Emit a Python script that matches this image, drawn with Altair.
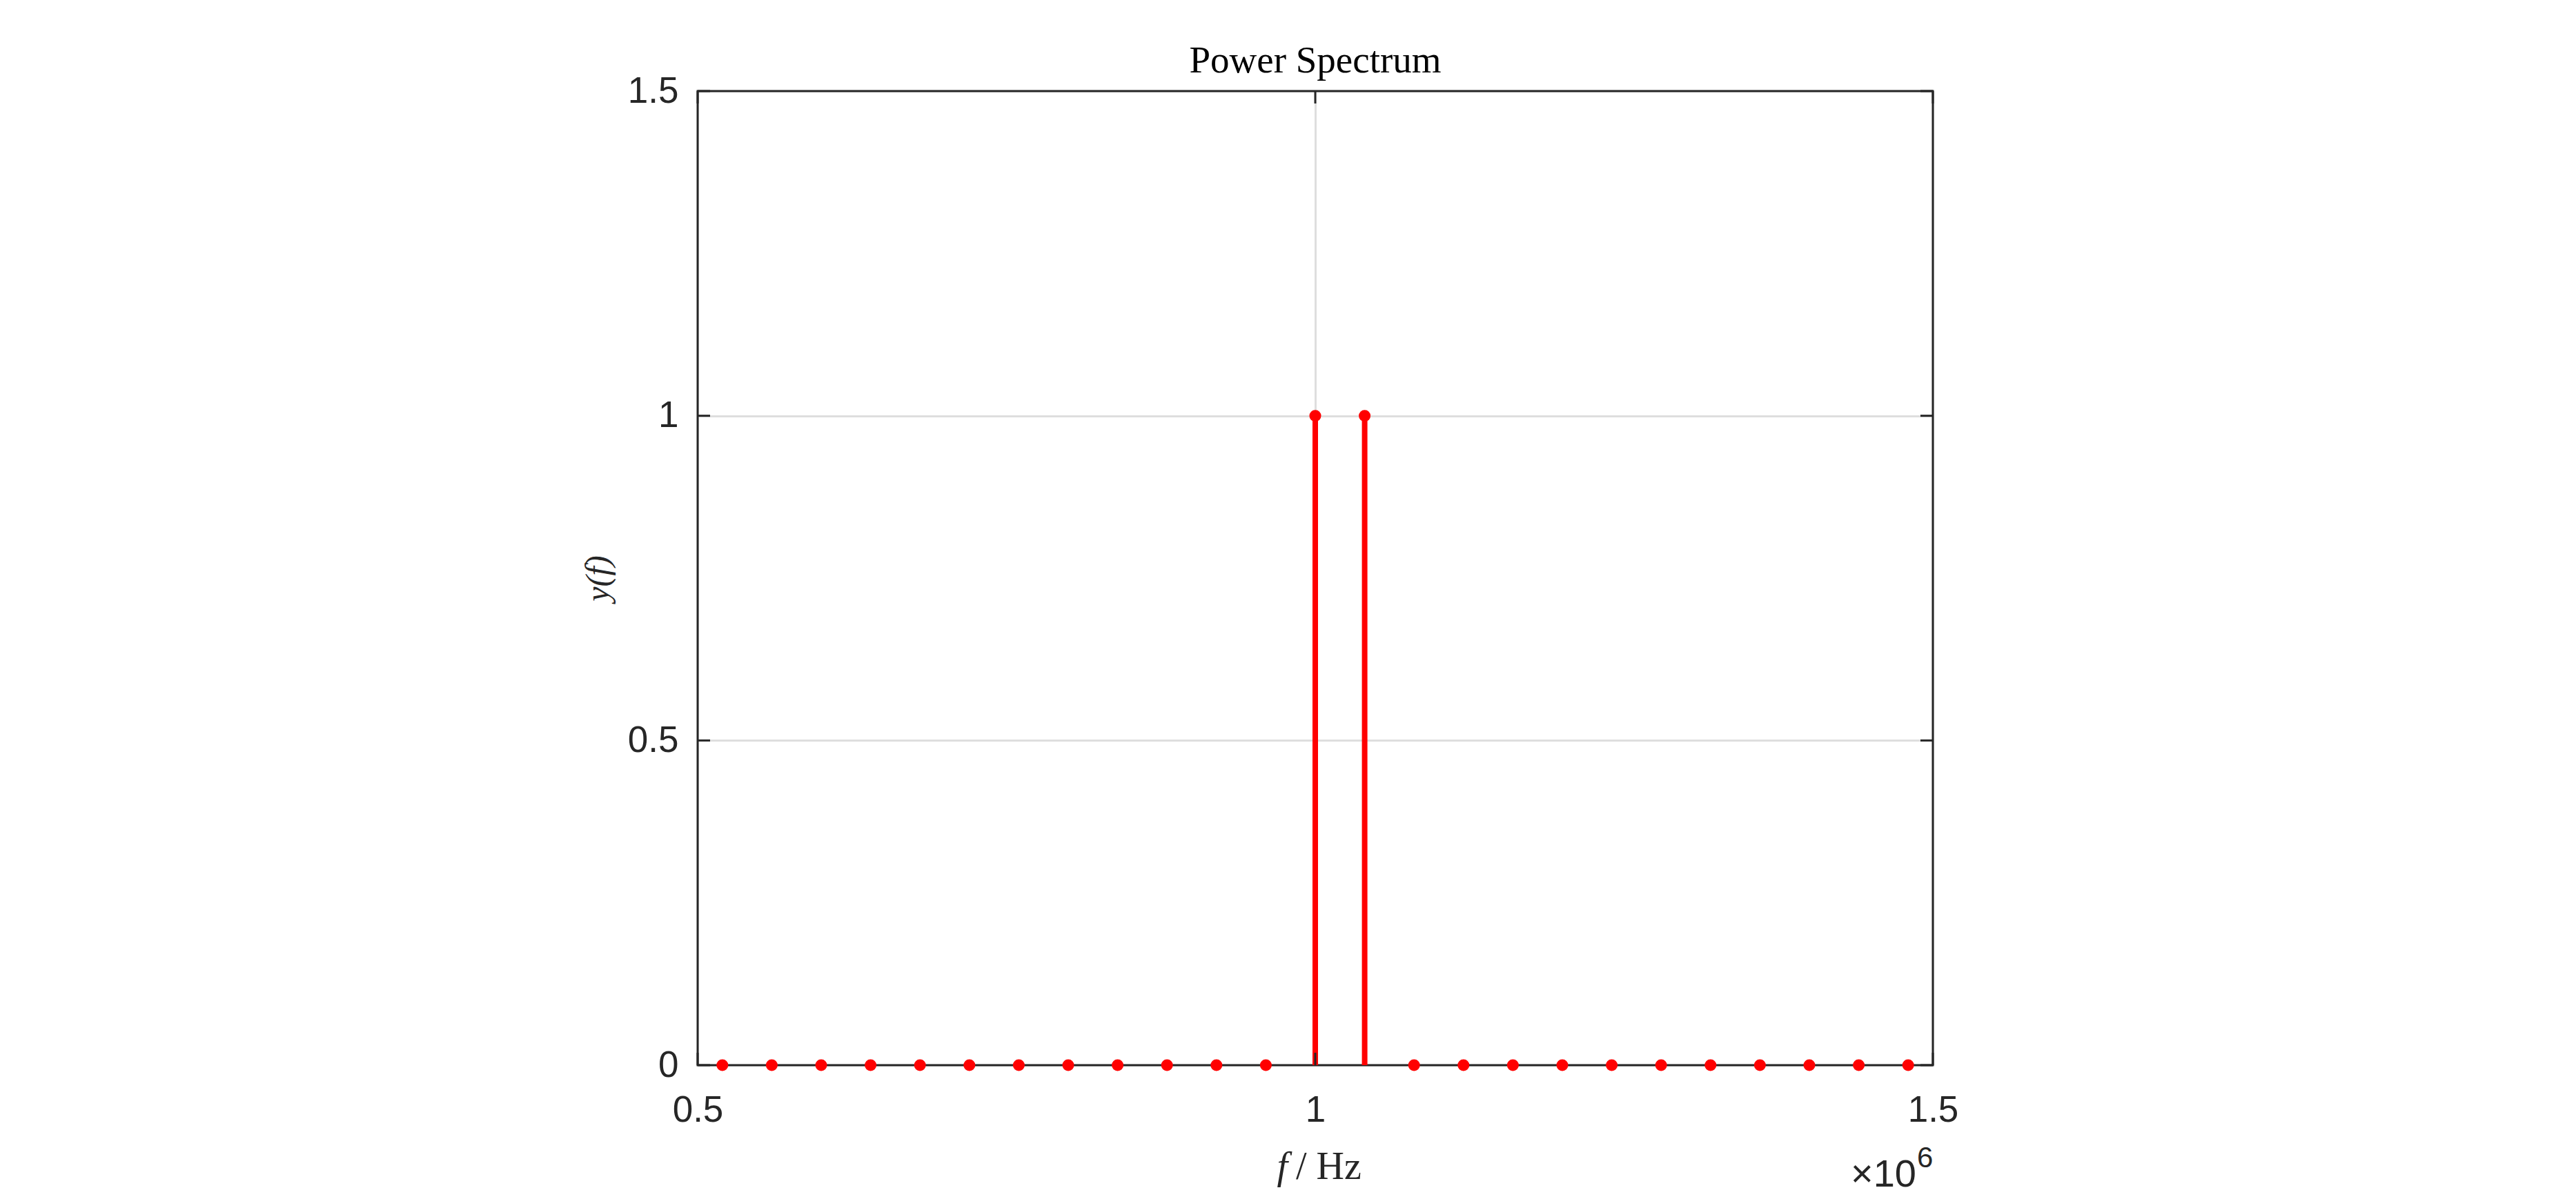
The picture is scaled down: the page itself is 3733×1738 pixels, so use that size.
import altair as alt
import pandas as pd

# ---- data ----
freqs = [520000, 560000, 600000, 640000, 680000, 720000, 760000, 800000,
         840000, 880000, 920000, 960000, 1000000, 1040000, 1080000, 1120000,
         1160000, 1200000, 1240000, 1280000, 1320000, 1360000, 1400000,
         1440000, 1480000]
power = [0, 0, 0, 0, 0, 0, 0, 0, 0, 0, 0, 0, 1, 1, 0, 0, 0, 0, 0, 0, 0, 0, 0, 0, 0]

x_ticks = [500000, 1000000, 1500000]
y_ticks = [0, 0.5, 1, 1.5]

title_text = "Power Spectrum"
x_title_parts = ["f", "/ Hz"]
y_title_text = "y(f)"
exp_parts = ["\u00d710", "6"]

W, H = 1790, 1412
TICK = 18
DARK = "#262626"
RED = "#ff0000"

df = pd.DataFrame({"f": freqs, "y": power})
xt = pd.DataFrame({"t": x_ticks})
yt = pd.DataFrame({"t": y_ticks})

xscale = alt.Scale(domain=[500000, 1500000], nice=False, zero=False)
yscale = alt.Scale(domain=[0, 1.5], nice=False, zero=False)

xaxis = alt.Axis(values=x_ticks, labelExpr="datum.value / 1000000",
                 grid=True, gridColor="#dedede", gridWidth=3,
                 ticks=False, domain=False, labelFont="Liberation Sans",
                 labelFontSize=53, labelColor=DARK, labelPadding=39,
                 labelFlush=False, labelOverlap=False, title=None)
yaxis = alt.Axis(values=y_ticks, labelExpr="datum.value",
                 grid=True, gridColor="#dedede", gridWidth=3,
                 ticks=False, domain=False, labelFont="Liberation Sans",
                 labelFontSize=53, labelColor=DARK, labelPadding=28,
                 labelFlush=False, labelOverlap=False,
                 title=y_title_text, titleFont="Liberation Serif",
                 titleFontStyle="italic", titleFontWeight="normal",
                 titleFontSize=48, titleColor=DARK, titleAngle=270,
                 titleX=-144, titleY=H / 2, titleBaseline="middle",
                 titleAlign="center")

X_f = alt.X("f:Q", scale=xscale, axis=xaxis)
Y_y = alt.Y("y:Q", scale=yscale, axis=yaxis)
X_t = alt.X("t:Q", scale=xscale, axis=xaxis)
Y_t = alt.Y("t:Q", scale=yscale, axis=yaxis)

frame = alt.Chart(pd.DataFrame({"k": [0]})).mark_rect(
    fill=None, fillOpacity=0, stroke=DARK, strokeWidth=3).encode(
    x=alt.value(0), x2=alt.value(W), y=alt.value(0), y2=alt.value(H))

stems = alt.Chart(df).mark_rule(color=RED, strokeWidth=8).encode(
    x=X_f, y=Y_y, y2=alt.datum(0),
)

dots = alt.Chart(df).mark_circle(color=RED, size=290, opacity=1).encode(
    x=X_f, y=Y_y,
)

tick_style = dict(color=DARK, strokeWidth=3)
xb = alt.Chart(xt).mark_rule(**tick_style).encode(
    x=X_t, y=alt.value(H), y2=alt.value(H - TICK))
xtop = alt.Chart(xt).mark_rule(**tick_style).encode(
    x=X_t, y=alt.value(0), y2=alt.value(TICK))
yl = alt.Chart(yt).mark_rule(**tick_style).encode(
    y=Y_t, x=alt.value(0), x2=alt.value(TICK))
yr = alt.Chart(yt).mark_rule(**tick_style).encode(
    y=Y_t, x=alt.value(W - TICK), x2=alt.value(W))

f_lab = alt.Chart(pd.DataFrame({"t": [x_title_parts[0]]})).mark_text(
    font="Liberation Serif", fontStyle="italic", fontSize=56, color=DARK,
    align="right", baseline="alphabetic").encode(
    x=alt.value(W / 2 - 40), y=alt.value(H + 165), text="t:N")
hz_lab = alt.Chart(pd.DataFrame({"t": [x_title_parts[1]]})).mark_text(
    font="Liberation Serif", fontSize=56, color=DARK,
    align="left", baseline="alphabetic").encode(
    x=alt.value(W / 2 - 28), y=alt.value(H + 165), text="t:N")

exp_base = alt.Chart(pd.DataFrame({"t": [exp_parts[0]]})).mark_text(
    font="Liberation Sans", fontSize=56, color=DARK,
    align="right", baseline="alphabetic").encode(
    x=alt.value(W - 24), y=alt.value(H + 176), text="t:N")
exp_sup = alt.Chart(pd.DataFrame({"t": [exp_parts[1]]})).mark_text(
    font="Liberation Sans", fontSize=42, color=DARK,
    align="left", baseline="alphabetic").encode(
    x=alt.value(W - 23), y=alt.value(H + 148), text="t:N")

chart = alt.layer(frame, stems, dots, xb, xtop, yl, yr, f_lab, hz_lab,
                  exp_base, exp_sup).properties(
    width=W, height=H,
    title=alt.TitleParams(title_text, font="Liberation Serif", fontSize=55,
                          fontWeight="normal", color="#000000",
                          anchor="middle", frame="group", baseline="alphabetic",
                          offset=-54),
    autosize=alt.AutoSizeParams(type="none"),
    padding={"left": 1003, "top": 124, "right": 900, "bottom": 190},
).configure_view(strokeWidth=0).configure(background="white")

chart.save("out.html", embed_options={"renderer": "svg", "actions": False})
